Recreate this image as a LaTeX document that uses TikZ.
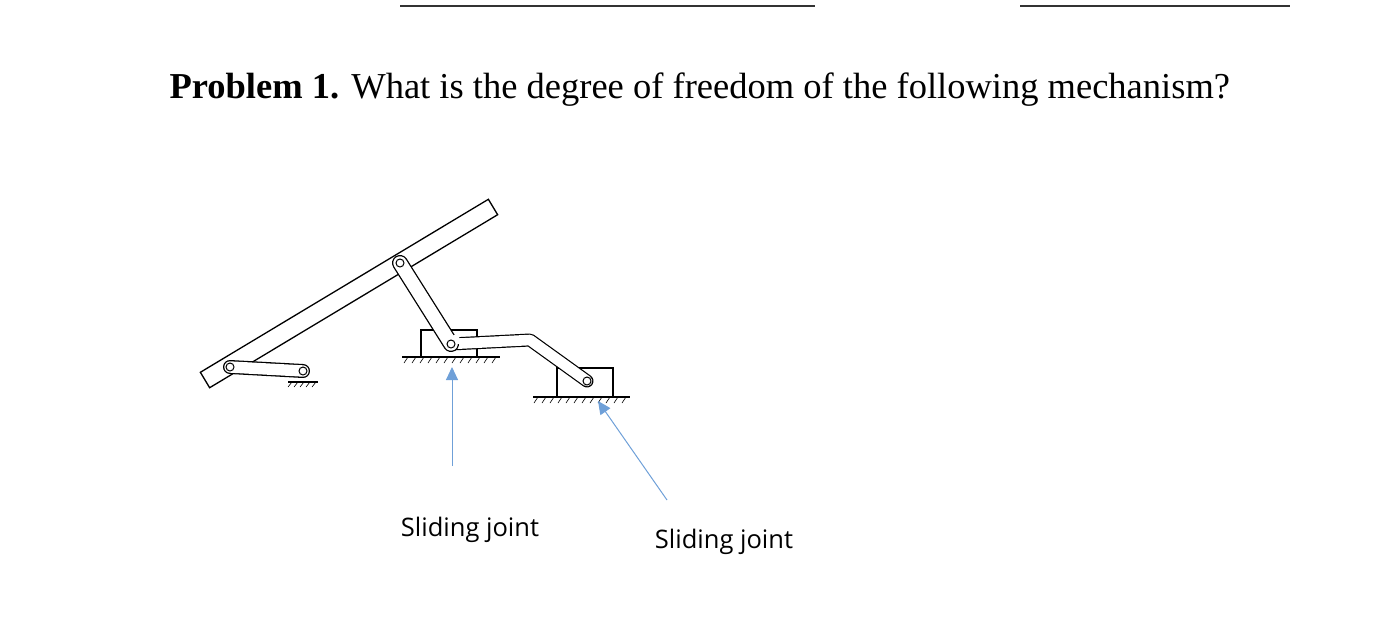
\documentclass[tikz,border=0pt]{standalone}
\usepackage{fontspec}
\setmainfont{Liberation Serif}
\newfontfamily\labelfont{Open Sans}
\usetikzlibrary{calc,arrows.meta}
\definecolor{arrowblue}{HTML}{6FA0D8}
\tikzset{
  outl/.style={line width=1.3pt},
  linkout/.style={line width=16pt, line cap=round, line join=round, black},
  linkin/.style={line width=13.4pt, line cap=round, line join=round, white},
  pin/.style={circle, draw, line width=1pt, fill=white, inner sep=0pt, minimum size=8pt},
  ground/.style={line width=1.1pt},
  blockstyle/.style={draw, line width=1.3pt, fill=white},
  pointer/.style={draw=arrowblue, line width=1pt, -{Triangle[length=13pt,width=12pt]}},
  lab/.style={font=\labelfont\fontsize{25.5}{30}\selectfont, anchor=center},
}
\begin{document}
\begin{tikzpicture}[x=1pt,y=-1pt]
\useasboundingbox (0,0) rectangle (1374,640);
% header lines
\draw[line width=1.6pt,black!80] (400,6) -- (815,6);
\draw[line width=1.6pt,black!80] (1020,6) -- (1290,6);
% title
\node[anchor=west, font=\fontsize{36.5}{42}\selectfont] (title) at (166,90) {\textbf{Problem 1.} What is the degree of freedom of the following mechanism?};
% coordinates
\coordinate (A) at (230,367);
\coordinate (G) at (303,371);
\coordinate (B) at (400,263);
\coordinate (C) at (451,344);
\coordinate (K) at (530,340);
\coordinate (D) at (587,381);
\coordinate (E1) at (205,380);
\coordinate (E2) at (493,207);
% ground hatching
\draw[ground] (288,382) -- (318,382);
\foreach \x in {292,298,...,316} \draw[line width=0.6pt] (\x,382) -- ++(-4,5);
\draw[ground] (402,357) -- (500,357);
\foreach \x in {408,416,...,498} \draw[line width=0.6pt] (\x,357) -- ++(-4,6);
\draw[ground] (533,397) -- (630,397);
\foreach \x in {538,546,...,626} \draw[line width=0.6pt] (\x,397) -- ++(-4,6);
% long bar
\draw[outl, fill=white] ($(E1)!9pt!90:(E2)$) -- ($(E2)!9pt!-90:(E1)$) -- ($(E2)!9pt!90:(E1)$) -- ($(E1)!9pt!-90:(E2)$) -- cycle;
% ground link
\draw[linkout, line width=14pt] (A) -- (G);
\draw[linkin, line width=11.4pt] (A) -- (G);
% slider blocks
\draw[blockstyle] (421,330) rectangle (477,357);
\draw[blockstyle] (557,368) rectangle (613,397);
% bent link
\draw[linkout, line width=13pt] (C) -- (K) -- (D);
\draw[linkin, line width=10.6pt] (C) -- (K) -- (D);
% vertical link
\draw[linkout] (B) -- (C);
\draw[linkin] (B) -- (C);
\fill[white] ($(C)+(4,-4)$) circle (5.3pt);
% pins
\node[pin] (pA) at (A) {};
\node[pin] (pG) at (G) {};
\node[pin] (pB) at (B) {};
\node[pin] (pC) at (C) {};
\node[pin] (pD) at (D) {};
% pointers
\coordinate (t1) at (452,466);
\coordinate (h1) at (452,367);
\coordinate (t2) at (667,500);
\coordinate (h2) at (598,401);
\draw[pointer] (t1) -- (h1);
\draw[pointer] (t2) -- (h2);
\node[lab] (l1) at (470,530) {Sliding joint};
\node[lab] (l2) at (724,542) {Sliding joint};
\end{tikzpicture}
\end{document}
